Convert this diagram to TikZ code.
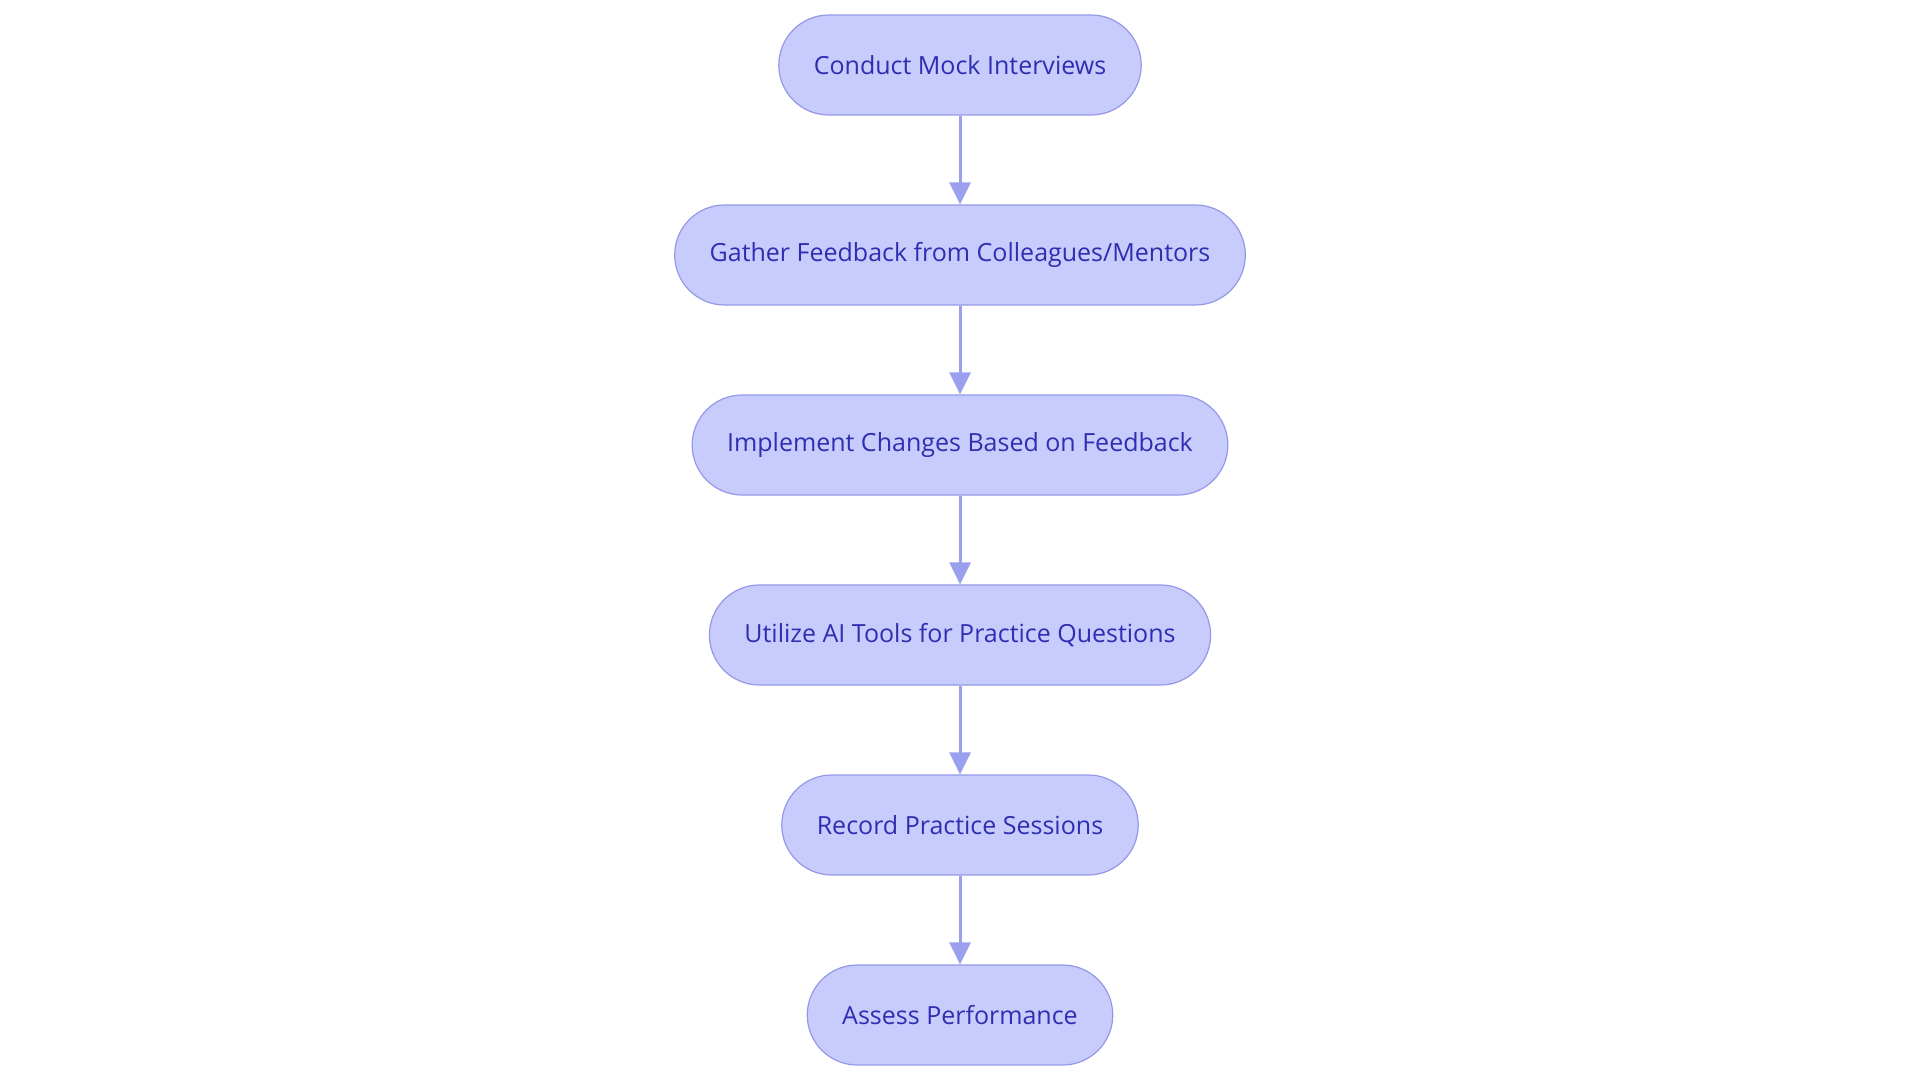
\documentclass[tikz,border=0pt]{standalone}
\usepackage{fontspec}
\setmainfont{Open Sans}
\usepackage{tikz}
\usetikzlibrary{arrows.meta}

\definecolor{StepFill}{RGB}{200,204,253}
\definecolor{StepLine}{RGB}{148,152,230}
\definecolor{StepText}{RGB}{46,46,176}
\definecolor{LinkLine}{RGB}{155,160,238}

\begin{document}
\begin{tikzpicture}[x=1pt,y=1pt,
  stepbox/.style={draw=StepLine,line width=1.2pt,fill=StepFill,text=StepText,
    rounded corners=50pt,minimum height=100pt,inner xsep=35pt,
    font=\fontsize{25}{30}\selectfont},
  link/.style={LinkLine,line width=3pt,-{Triangle[length=22pt,width=21pt]}}]
\useasboundingbox (0,0) rectangle (1920,-1083);

\node[stepbox] (mock) at (960,-65) {Conduct Mock Interviews};
\node[stepbox] (feedback) at (960,-255) {Gather Feedback from Colleagues/Mentors};
\node[stepbox] (changes) at (960,-445) {Implement Changes Based on Feedback};
\node[stepbox] (aitools) at (960,-635) {Utilize AI Tools for Practice Questions};
\node[stepbox] (record) at (960,-825) {Record Practice Sessions};
\node[stepbox] (assess) at (960,-1015) {Assess Performance};

\draw[link] (mock) -- (feedback);
\draw[link] (feedback) -- (changes);
\draw[link] (changes) -- (aitools);
\draw[link] (aitools) -- (record);
\draw[link] (record) -- (assess);

\end{tikzpicture}
\end{document}
